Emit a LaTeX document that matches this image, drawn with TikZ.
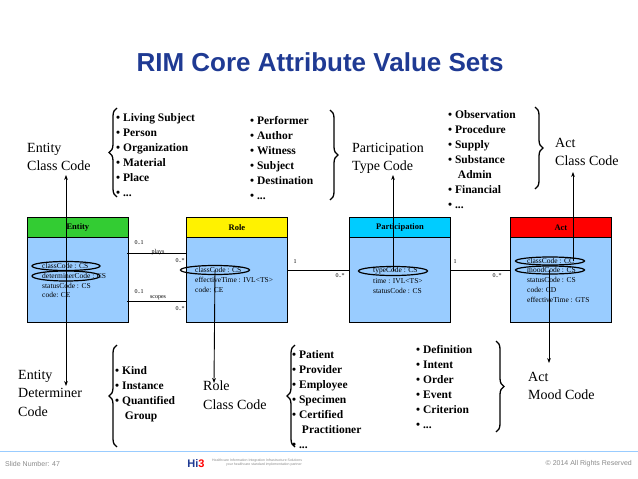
\documentclass[tikz,border=0pt]{standalone}
\usepackage{fontspec}
\setmainfont{Liberation Serif}
\newfontfamily\sansf{Liberation Sans}
\usetikzlibrary{decorations.pathreplacing,arrows.meta,shapes.geometric}
\definecolor{bodyblue}{HTML}{99CCFF}
\definecolor{titleblue}{HTML}{1F3A93}
\definecolor{hgreen}{HTML}{33CC33}
\definecolor{hcyan}{HTML}{00CCFF}
\definecolor{footgray}{HTML}{8A8A8A}
\tikzset{
 hdr/.style={draw,line width=0.8pt,minimum width=101pt,minimum height=20pt,anchor=north west,inner sep=0pt,font=\bfseries\fontsize{8.5}{9}\selectfont},
 bdy/.style={draw,line width=0.8pt,fill=bodyblue,minimum width=101pt,minimum height=85pt,anchor=north west,inner sep=0pt},
 attr/.style={anchor=west,inner sep=0pt,font=\fontsize{7.5}{8}\selectfont},
 ell/.style={draw,line width=1.2pt,ellipse,inner sep=0pt},
 mult/.style={inner sep=0pt,font=\fontsize{6}{7}\selectfont},
 lst/.style={anchor=north west,align=left,inner sep=0pt,font=\bfseries\fontsize{11.5}{15}\selectfont},
 lbl/.style={anchor=north west,align=left,inner sep=0pt,font=\fontsize{14}{18.5}\selectfont},
 brc/.style={decorate,decoration={brace,amplitude=8pt},line width=1.3pt},
 arr/.style={line width=0.9pt,-{Stealth[length=5pt]}},
 conn/.style={line width=0.8pt}
}
\begin{document}
\begin{tikzpicture}[x=1pt,y=-1pt]
\useasboundingbox (0,0) rectangle (638,479);
\node[font=\sansf\bfseries\fontsize{26}{30}\selectfont,text=titleblue] (title) at (320,62) {RIM Core Attribute Value Sets};
% boxes
\foreach \n/\x/\c/\t in {E/27/hgreen/Entity,R/186/yellow/Role,P/349/hcyan/Participation,A/510/red/Act}{
 \node[hdr,fill=\c] (\n h) at (\x,217) {\t};
 \node[bdy] (\n b) at (\x,237) {};
}
% attributes
\node[attr] (e1) at (42,266) {classCode : CS};
\node[attr] (e2) at (42,276) {determinerCode : CS};
\node[attr] (e3) at (42,285.5) {statusCode : CS};
\node[attr] (e4) at (42,295) {code: CE};
\node[ell,minimum width=68pt,minimum height=9pt] (ee1) at (66,266) {};
\node[ell,minimum width=68pt,minimum height=10pt] (ee2) at (66,276) {};
\node[attr] (r1) at (195,270) {classCode : CS};
\node[attr] (r2) at (195,280) {effectiveTime : IVL<TS>};
\node[attr] (r3) at (195,290) {code: CE};
\node[ell,minimum width=69pt,minimum height=9pt] (re1) at (215,270) {};
\node[attr] (p1) at (373,271) {typeCode : CS};
\node[attr] (p2) at (373,281) {time : IVL<TS>};
\node[attr] (p3) at (373,290.5) {statusCode : CS};
\node[ell,minimum width=69pt,minimum height=9pt] (pe1) at (393,271) {};
\node[attr] (a1) at (527,261) {classCode : CC};
\node[attr] (a2) at (527,270) {moodCode : CS};
\node[attr] (a3) at (527,280) {statusCode : CS};
\node[attr] (a4) at (527,290) {code: CD};
\node[attr] (a5) at (527,300) {effectiveTime : GTS};
\node[ell,minimum width=69pt,minimum height=8pt] (ae1) at (550,261) {};
\node[ell,minimum width=69pt,minimum height=8pt] (ae2) at (550,270) {};
% connectors
\coordinate (c1a) at (127,253); \coordinate (c1b) at (186,253);
\coordinate (c2a) at (127,301); \coordinate (c2b) at (186,301);
\coordinate (c3a) at (287,270); \coordinate (c3b) at (349,270);
\coordinate (c4a) at (450,270); \coordinate (c4b) at (510,270);
\draw[conn] (c1a) -- (c1b);
\draw[conn] (c2a) -- (c2b);
\draw[conn] (c3a) -- (c3b);
\draw[conn] (c4a) -- (c4b);
\node[mult] (m1) at (139,243) {0..1};
\node[mult] (m2) at (158,252) {plays};
\node[mult] (m3) at (180,261) {0..*};
\node[mult] (m4) at (139,292) {0..1};
\node[mult] (m5) at (158,298) {scopes};
\node[mult] (m6) at (180,309) {0..*};
\node[mult] (m7) at (295,262) {1};
\node[mult] (m8) at (340,276) {0..*};
\node[mult] (m9) at (455,262) {1};
\node[mult] (m10) at (497,276) {0..*};
% labels
\node[lbl] (lec) at (27,143) {Entity\\Class Code};
\node[lbl] (lpt) at (352,143) {Participation\\Type Code};
\node[lbl] (lac) at (555,138) {Act\\Class Code};
\node[lbl] (led) at (18,370) {Entity\\Determiner\\Code};
\node[lbl] (lrc) at (203,381) {Role\\Class Code};
\node[lbl] (lam) at (528,372) {Act\\Mood Code};
% arrows
\coordinate (t1) at (66,175); \coordinate (b1) at (66,386);
\draw[arr] (ee2.center) -- (t1);
\draw[arr] (ee1.center) -- (b1);
\coordinate (b2) at (214,383);
\draw[arr] (re1.center) -- (b2);
\coordinate (t3) at (393,175);
\draw[arr] (pe1.center) -- (t3);
\coordinate (t4) at (573,172);
\draw[arr] (t4 |- ae1.center) -- (t4);
\coordinate (b4) at (549,363);
\draw[arr] (b4 |- ae2.center) -- (b4);
% lists
\node[lst] (l1) at (116,113) {• Living Subject\\• Person\\• Organization\\• Material\\• Place\\• ...};
\node[lst] (l2) at (250,116) {• Performer\\• Author\\• Witness\\• Subject\\• Destination\\• ...};
\node[lst] (l3) at (448,110) {• Observation\\• Procedure\\• Supply\\• Substance\\\hspace*{0.6em} Admin\\• Financial\\• ...};
\node[lst] (l4) at (115,366) {• Kind\\• Instance\\• Quantified\\\hspace*{0.6em} Group};
\node[lst] (l5) at (292,350) {• Patient\\• Provider\\• Employee\\• Specimen\\• Certified\\\hspace*{0.6em} Practitioner\\• ...};
\node[lst] (l6) at (416,345) {• Definition\\• Intent\\• Order\\• Event\\• Criterion\\• ...};
% braces
\draw[brc] (117,197) -- (117,108);
\draw[brc] (330,110) -- (330,200);
\draw[brc] (535,107) -- (535,189);
\draw[brc] (117,447) -- (117,345);
\draw[brc] (295,447) -- (295,345);
\draw[brc] (496,341) -- (496,432);
% footer
\draw[color=bodyblue,line width=0.6pt] (0,451) -- (638,451);
\node[anchor=west,inner sep=0pt,text=footgray,font=\sansf\fontsize{7}{8}\selectfont] (sn) at (5,464) {Slide Number: 47};
\node[anchor=east,inner sep=0pt,text=footgray,font=\sansf\fontsize{7}{8}\selectfont] (cr) at (632,464) {© 2014 All Rights Reserved};
\node[inner sep=0pt,text=titleblue,font=\sansf\bfseries\fontsize{11}{12}\selectfont] (logo) at (196,464) {Hi\textcolor{red}{3}};
\node[anchor=west,inner sep=0pt,text=footgray,font=\sansf\fontsize{3.5}{4}\selectfont,align=left] (lt) at (212,463) {Healthcare Information Integration Infrastructure Solutions\\\hspace*{4em}your healthcare standard implementation partner};
\end{tikzpicture}
\end{document}
